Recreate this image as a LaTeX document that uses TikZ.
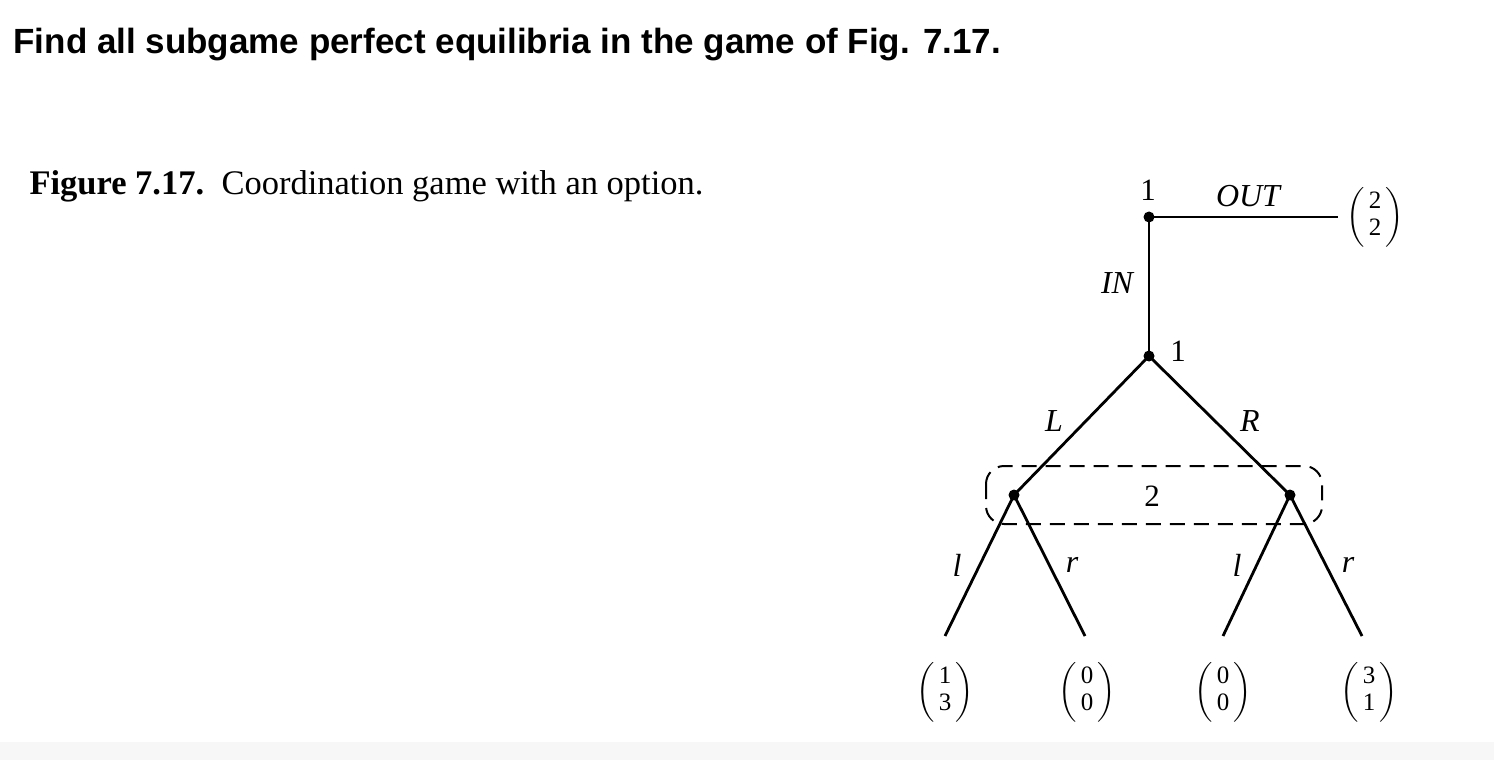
\documentclass[tikz,border=0pt]{standalone}
\usepackage{amsmath}
\usepackage{fontspec}
\setmainfont{Liberation Serif}
\newfontfamily\titlefont{Liberation Sans}
\begin{document}
\begin{tikzpicture}[x=1pt,y=-1pt,
  dot/.style={circle,fill=black,inner sep=0pt,minimum size=11pt},
  edge/.style={line width=2.8pt},
  lab/.style={font=\fontsize{32}{34}\selectfont\itshape},
  pl/.style={font=\fontsize{31}{34}\selectfont},
  pay/.style={font=\fontsize{25}{27}\selectfont,inner sep=0pt}]
\useasboundingbox (0,0) rectangle (1494,778);
\fill[black!3] (0,742) rectangle (1494,760);
\node[anchor=west,font=\titlefont\bfseries\fontsize{35}{38}\selectfont] (title) at (10,45) {Find all subgame perfect equilibria in the game of Fig. 7.17.};
\node[anchor=west,font=\fontsize{34.5}{38}\selectfont] (cap) at (26,186) {\textbf{Figure 7.17.}\ \ Coordination game with an option.};
\newcommand{\pv}[2]{$\left(\vcenter{\hbox{\begin{tabular}{@{\,}c@{\,}}#1\\#2\end{tabular}}}\right)$}
\node[dot] (a) at (1149,217) {};
\node[dot] (b) at (1149,356) {};
\node[dot] (c) at (1014,495) {};
\node[dot] (d) at (1290,495) {};
\coordinate (o) at (1338,217);
\coordinate (e1) at (945,636);
\coordinate (e2) at (1085,636);
\coordinate (e3) at (1223,636);
\coordinate (e4) at (1362,636);
\draw[edge] (a.center) -- (o);
\draw[edge] (a.center) -- (b.center);
\draw[edge] (b.center) -- (c.center);
\draw[edge] (b.center) -- (d.center);
\draw[edge] (c.center) -- (e1);
\draw[edge] (c.center) -- (e2);
\draw[edge] (d.center) -- (e3);
\draw[edge] (d.center) -- (e4);
\draw[line width=2pt,dash pattern=on 15pt off 9pt,rounded corners=18pt] (986,466) rectangle (1322,524);
\node[pl] (la) at (1148,190) {1};
\node[pl] (lb) at (1178,351) {1};
\node[pl] (li) at (1152,496) {2};
\node[lab] (out) at (1248,196) {OUT};
\node[lab] (in) at (1117,283) {IN};
\node[lab] (L) at (1054,421) {L};
\node[lab] (R) at (1250,421) {R};
\node[lab] (l1) at (957,565) {l};
\node[lab] (r1) at (1072,565) {r};
\node[lab] (l2) at (1237,565) {l};
\node[lab] (r2) at (1348,565) {r};
\node[pay] (p0) at (1375,217) {\pv{2}{2}};
\node[pay] (p1) at (945,692) {\pv{1}{3}};
\node[pay] (p2) at (1087,692) {\pv{0}{0}};
\node[pay] (p3) at (1223,692) {\pv{0}{0}};
\node[pay] (p4) at (1369,692) {\pv{3}{1}};
\end{tikzpicture}
\end{document}
